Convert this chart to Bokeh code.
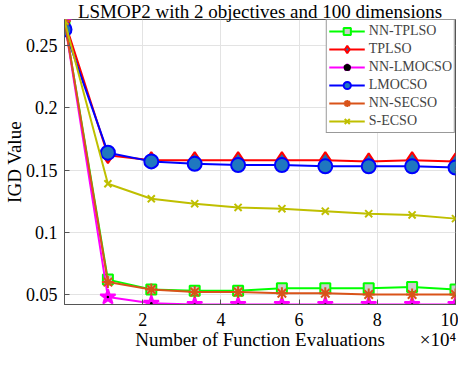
from bokeh.plotting import figure
from bokeh.models import Range1d, FixedTicker, Legend, LegendItem, LinearAxis, Title
from bokeh.embed import file_html
from bokeh.resources import INLINE

evals = [0, 11100, 22200, 33300, 44400, 55600, 66700, 77800, 88900, 100000]
nn_tplso = [0.270, 0.062, 0.054, 0.053, 0.053, 0.055, 0.055, 0.055, 0.056, 0.054]
tplso = [0.270, 0.162, 0.158, 0.158, 0.158, 0.158, 0.158, 0.157, 0.158, 0.157]
nn_lmocso = [0.270, 0.048, 0.043, 0.042, 0.042, 0.042, 0.042, 0.042, 0.042, 0.042]
lmocso = [0.263, 0.164, 0.157, 0.155, 0.154, 0.154, 0.153, 0.153, 0.153, 0.152]
nn_secso = [0.270, 0.060, 0.054, 0.052, 0.052, 0.051, 0.051, 0.050, 0.050, 0.050]
s_ecso = [0.270, 0.139, 0.127, 0.123, 0.120, 0.119, 0.117, 0.115, 0.114, 0.111]

x_ticks = [20000, 40000, 60000, 80000, 100000]
x_tick_labels = ["2", "4", "6", "8", "10"]
y_ticks = [0.05, 0.1, 0.15, 0.2, 0.25]
y_tick_labels = ["0.05", "0.1", "0.15", "0.2", "0.25"]

title_text = "LSMOP2 with 2 objectives and 100 dimensions"
x_label = "Number of Function Evaluations"
x_scale_label = "×10⁴"
y_label = "IGD Value"
FONT = "Liberation Serif"
AXC = "#555555"

p = figure(width=458, height=352, output_backend="svg", toolbar_location=None,
           x_range=Range1d(0, 100000), y_range=Range1d(0.042, 0.271),
           min_border_left=54, min_border_right=3, min_border_top=0, min_border_bottom=0)
xa = p.xaxis[0]
ya = p.yaxis[0]
p.background_fill_color = "white"
p.border_fill_color = "white"
p.outline_line_color = AXC
p.outline_line_width = 1

p.title = Title(text=title_text, align="center", text_font=FONT, text_font_size="19px",
                text_font_style="normal", text_color="black", standoff=-4)

for ax in (xa, ya):
    ax.axis_line_color = AXC
    ax.major_tick_line_color = AXC
    ax.major_tick_in = 5
    ax.major_tick_out = 0
    ax.minor_tick_line_color = None
    ax.major_label_text_font = FONT
    ax.major_label_text_font_size = "18px"
    ax.major_label_text_color = "black"
    ax.axis_label_text_font = FONT
    ax.axis_label_text_font_size = "19px"
    ax.axis_label_text_font_style = "normal"
    ax.axis_label_text_color = "black"

xa.ticker = FixedTicker(ticks=x_ticks)
xa.major_label_overrides = dict(zip(x_ticks, x_tick_labels))
ya.ticker = FixedTicker(ticks=y_ticks)
ya.major_label_overrides = dict(zip(y_ticks, y_tick_labels))
xa.major_label_standoff = 8
ya.major_label_standoff = 7
ya.axis_label = y_label
ya.axis_label_standoff = -2

# second bottom axis carrying the axis title and the x10^4 factor on one row
ax2 = LinearAxis(ticker=FixedTicker(ticks=[50000, 95500]),
                 major_label_overrides={50000: x_label, 95500: x_scale_label})
ax2.axis_line_color = None
ax2.major_tick_line_color = None
ax2.minor_tick_line_color = None
ax2.major_tick_in = 0
ax2.major_tick_out = 0
ax2.major_label_standoff = 0
ax2.major_label_text_font = FONT
ax2.major_label_text_font_size = "19px"
ax2.major_label_text_color = "black"
p.add_layout(ax2, "below")

p.xgrid.ticker = FixedTicker(ticks=x_ticks)
p.ygrid.ticker = FixedTicker(ticks=y_ticks)
p.xgrid.grid_line_color = "#e3e3e3"
p.ygrid.grid_line_color = "#e3e3e3"

items = []

def series(name, ys, color, marker, size, fill):
    r1 = p.line(evals, ys, line_color=color, line_width=2)
    r2 = p.scatter(evals, ys, marker=marker, size=size, line_color=color,
                   fill_color=fill, line_width=2)
    items.append(LegendItem(label=name, renderers=[r1, r2]))

series("NN-TPLSO", nn_tplso, "#00FF00", "square", 10, "#CCCCCC")
series("TPLSO", tplso, "#FF0000", "diamond", 16, "#1F6FB0")
series("NN-LMOCSO", nn_lmocso, "#FF00FF", "star", 16, "#FF00FF")
dots = p.scatter(evals, nn_lmocso, marker="circle", size=2.5, line_color=None, fill_color="black")
items[-1].renderers.append(dots)
series("LMOCSO", lmocso, "#0000FF", "circle", 14, "#1F77C0")
series("NN-SECSO", nn_secso, "#D95319", "asterisk", 12, None)
series("S-ECSO", s_ecso, "#BFBF00", "x", 10, None)

legend = Legend(items=items, location="top_right", margin=0, padding=2, spacing=0,
                glyph_width=36, glyph_height=18, label_height=18, label_standoff=4,
                label_text_font=FONT, label_text_font_size="14px",
                border_line_color="#333333", border_line_width=1,
                background_fill_color="white", background_fill_alpha=1)
p.add_layout(legend)

open("out.html", "w").write(file_html(p, INLINE))
